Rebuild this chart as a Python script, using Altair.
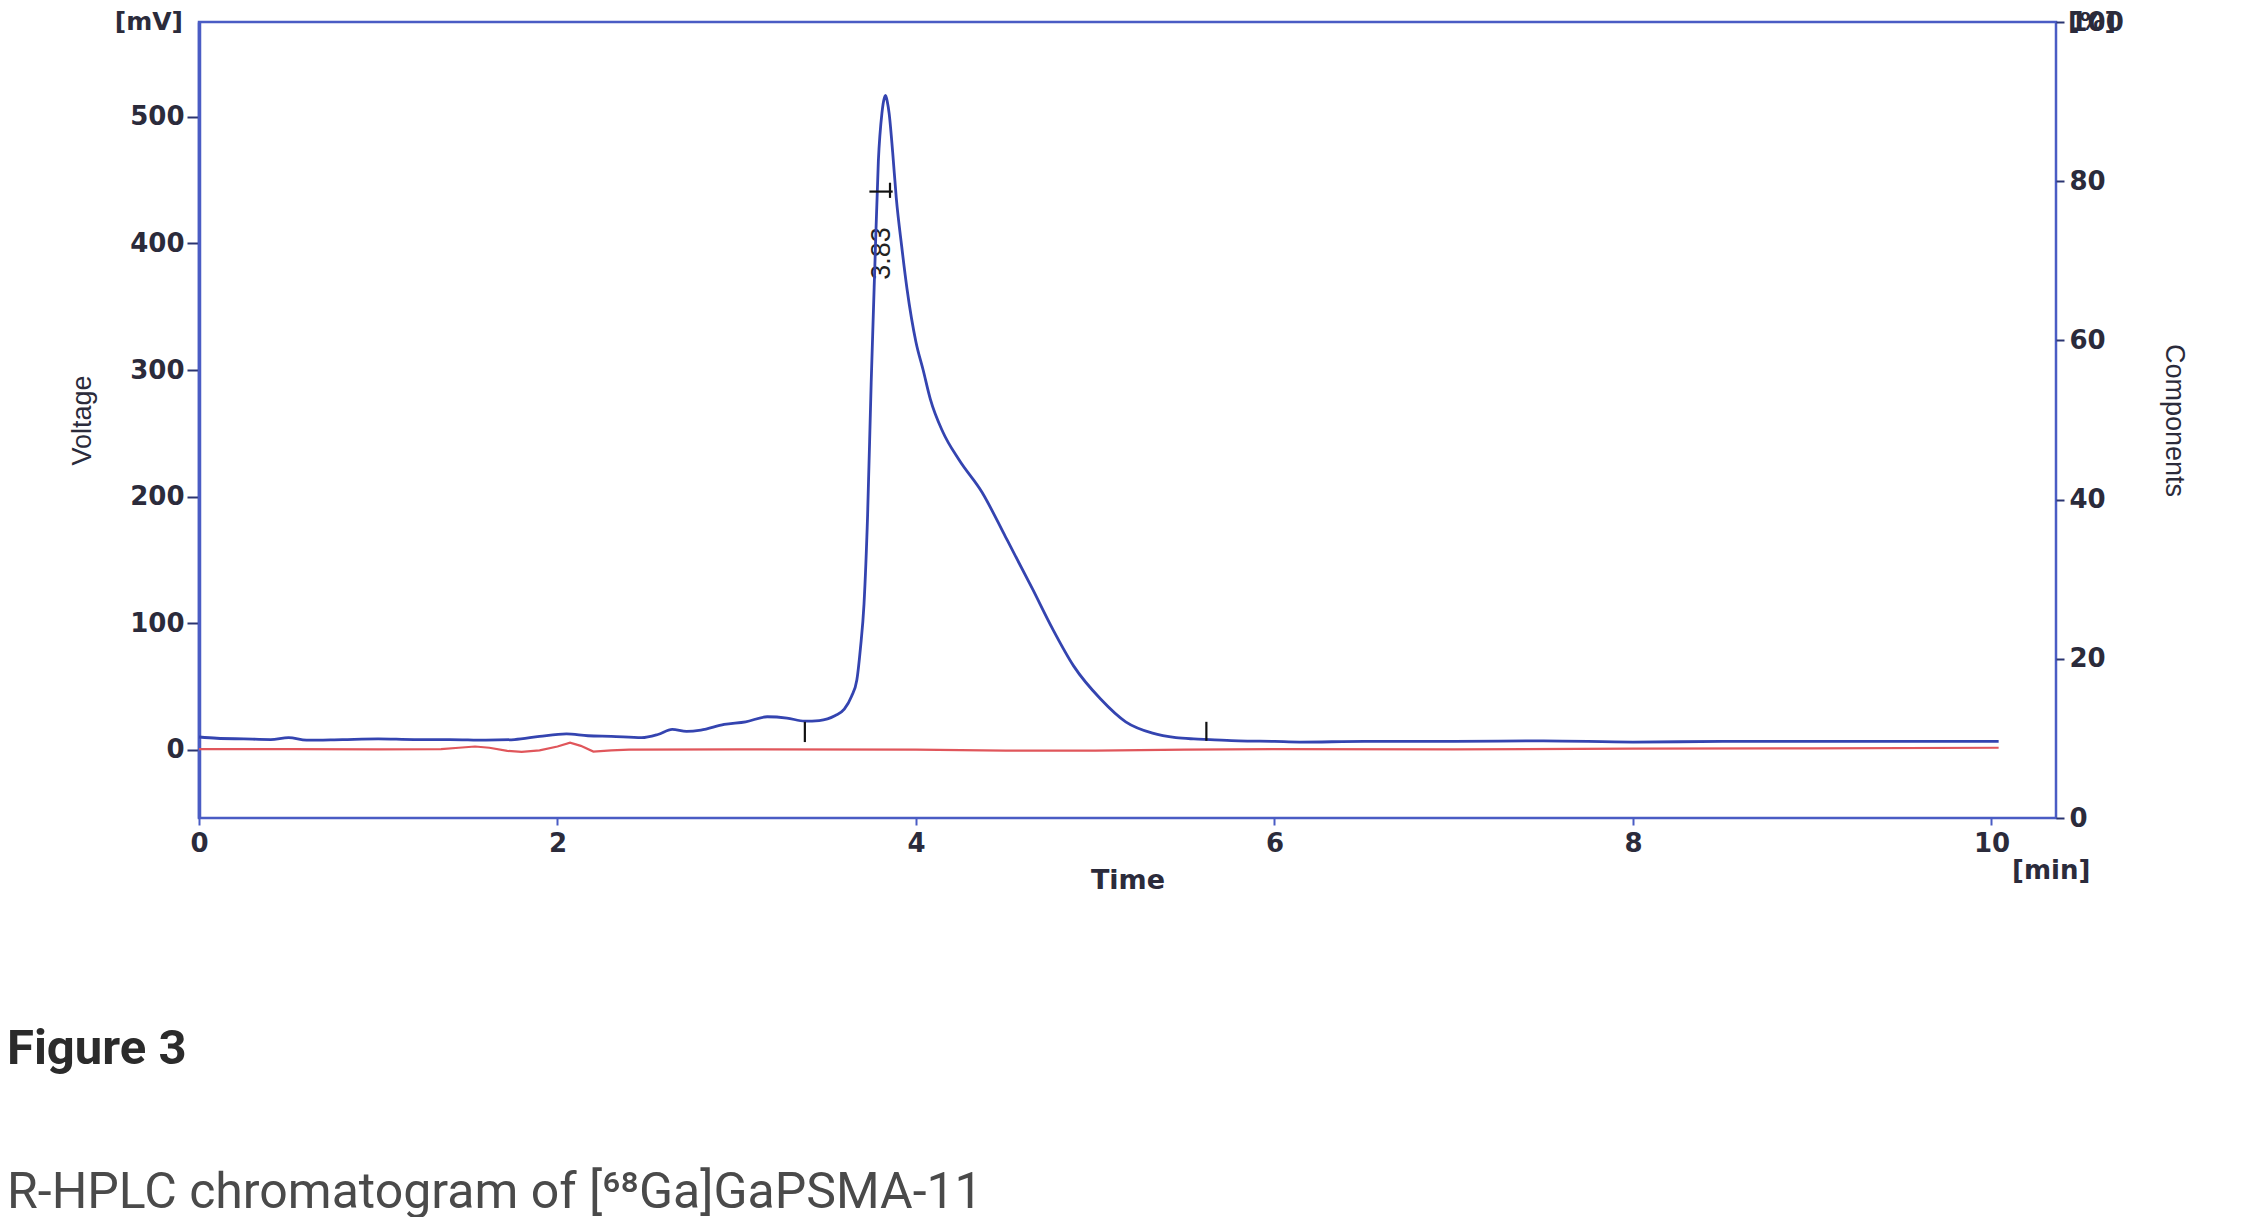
import altair as alt
import pandas as pd

# ---- data ----
blue_t = [0.00, 0.10, 0.25, 0.40, 0.50, 0.60, 0.80, 1.00, 1.20, 1.40, 1.60, 1.76, 1.90, 2.05, 2.17,
          2.30, 2.47, 2.56, 2.64, 2.72, 2.80, 2.93, 3.05, 3.17, 3.28, 3.38, 3.46, 3.55, 3.60, 3.64,
          3.67, 3.69, 3.71, 3.73, 3.75, 3.77, 3.79, 3.81, 3.82, 3.83, 3.84, 3.85, 3.87, 3.89, 3.92,
          3.95, 4.00, 4.04, 4.08, 4.15, 4.24, 4.37, 4.50, 4.65, 4.76, 4.88, 5.03, 5.17, 5.32, 5.45,
          5.55, 5.64, 5.80, 6.00, 6.14, 6.50, 7.00, 7.50, 8.00, 8.50, 9.00, 9.50, 10.04]
blue_mv = [10, 9, 8.5, 8, 9.5, 7.5, 8, 8.5, 8, 8, 7.5, 8, 10.5, 12.5, 11,
           10.5, 9.5, 12, 16, 14.5, 15.5, 20, 22, 26, 25, 22.5, 23, 27, 32, 42,
           55, 80, 115, 185, 290, 380, 465, 503, 513, 517, 512, 503, 472, 436, 398,
           364, 322, 300, 277, 251, 229, 203, 168, 127, 96, 66, 40, 22, 13, 9.5,
           8.5, 8, 7, 6.5, 6, 6.5, 6.5, 7, 6, 6.5, 6.5, 6.5, 6.5]

red_t = [0.00, 0.50, 1.00, 1.35, 1.45, 1.54, 1.62, 1.72, 1.80, 1.90, 2.00, 2.07, 2.13, 2.20, 2.30,
         2.40, 3.00, 4.00, 4.50, 5.00, 5.50, 6.00, 7.00, 8.00, 9.00, 10.04]
red_mv = [0.5, 0.5, 0.3, 0.5, 1.5, 2.5, 1.5, -1, -1.8, -0.5, 2.5, 5.5, 3, -1.5, -0.5,
          0, 0.3, 0, -0.8, -0.8, 0, 0.5, 0.3, 0.8, 1, 1.5]

border_t = [3.38, 5.62]
border_lo = [6, 7]
border_hi = [22, 22]

apex_t = [3.74]
apex_t2 = [3.87]
apex_mv = [441]
apex_tick_t = [3.855]
apex_tick_lo = [436]
apex_tick_hi = [448]

peak_label = ["3.83"]
peak_label_t = [3.81]
peak_label_mv = [392]

x_ticks = [0, 2, 4, 6, 8, 10]
y_ticks = [0, 100, 200, 300, 400, 500]
right_ticks = [0, 20, 40, 60, 80, 100]

# ---- styling ----
W, H = 1857, 796
FRAME = "#4a5cc4"
BLUE = "#3444b0"
RED = "#e0565b"
LBL = "#2b2b3b"

blue_df = pd.DataFrame({"t": blue_t, "v": blue_mv})
red_df = pd.DataFrame({"t": red_t, "v": red_mv})
border_df = pd.DataFrame({"t": border_t, "v": border_lo, "v2": border_hi})
apex_df = pd.DataFrame({"t": apex_t, "t2": apex_t2, "v": apex_mv})
apex_tick_df = pd.DataFrame({"t": apex_tick_t, "v": apex_tick_lo, "v2": apex_tick_hi})
label_df = pd.DataFrame({"t": peak_label_t, "v": peak_label_mv, "lab": peak_label})
right_df = pd.DataFrame({"comp": [0, 100]})

xscale = alt.Scale(domain=[0, 10.36], nice=False, zero=False)
yscale = alt.Scale(domain=[-54, 575], nice=False, zero=False)


def X():
    return alt.X("t:Q", scale=xscale, axis=alt.Axis(
        values=x_ticks, title="Time", grid=False, domain=False,
        tickColor=FRAME, tickSize=7, tickWidth=2, labelPadding=5,
        labelFont="DejaVu Sans", labelFontWeight="bold", labelFontSize=26, labelColor=LBL,
        labelFlush=False, labelOverlap=False,
        titleFont="DejaVu Sans", titleFontWeight="bold", titleFontSize=27, titleColor=LBL,
        titleX=W / 2, titleY=62, titleAlign="center", titleBaseline="middle", titleAngle=0))


def Y(field="v:Q"):
    return alt.Y(field, scale=yscale, axis=alt.Axis(
        values=y_ticks, title="Voltage", grid=False, domain=True,
        domainColor=FRAME, domainWidth=3.5,
        tickColor="#2a3470", tickSize=12, tickWidth=2, labelPadding=3,
        labelFont="DejaVu Sans", labelFontWeight="bold", labelFontSize=26, labelColor=LBL,
        labelFlush=False, labelOverlap=False,
        titleFont="Liberation Sans", titleFontWeight="normal", titleFontSize=27, titleColor=LBL,
        titleX=-117, titleY=H / 2, titleAngle=270, titleAlign="center", titleBaseline="middle"))


red = alt.Chart(red_df).mark_line(color=RED, strokeWidth=2.2).encode(x=X(), y=Y())
blue = alt.Chart(blue_df).mark_line(color=BLUE, strokeWidth=2.8, interpolate="monotone").encode(
    x=X(), y=Y())
borders = alt.Chart(border_df).mark_rule(color="#111", strokeWidth=2.2).encode(
    x=X(), y=Y(), y2="v2:Q")
apex = alt.Chart(apex_df).mark_rule(color="#111", strokeWidth=2.2).encode(
    x=X(), x2="t2:Q", y=Y())
apex_tick = alt.Chart(apex_tick_df).mark_rule(color="#111", strokeWidth=2.2).encode(
    x=X(), y=Y(), y2="v2:Q")
peak_text = alt.Chart(label_df).mark_text(
    angle=270, font="Liberation Sans", fontSize=27, color="#222",
    align="center", baseline="middle").encode(x=X(), y=Y(), text="lab:N")

left = alt.layer(red, peak_text, blue, borders, apex, apex_tick)

right = alt.Chart(right_df).mark_point(opacity=0).encode(
    x=alt.value(0),
    y=alt.Y("comp:Q", scale=alt.Scale(domain=[0, 100], nice=False, zero=False), axis=alt.Axis(
        orient="right", values=right_ticks, title="Components", grid=False, domain=False,
        tickColor="#2a3470", tickSize=8, tickWidth=2, labelPadding=5,
        labelFont="DejaVu Sans", labelFontWeight="bold", labelFontSize=26, labelColor=LBL,
        labelFlush=False, labelOverlap=False,
        titleFont="Liberation Sans", titleFontWeight="normal", titleFontSize=27, titleColor=LBL,
        titleX=117, titleY=H / 2, titleAngle=90, titleAlign="center", titleBaseline="middle")))


def free_text(s, x, y, size, font="DejaVu Sans", weight="bold", color=LBL, align="left"):
    return alt.Chart(pd.DataFrame({"s": [s]})).mark_text(
        font=font, fontSize=size, fontWeight=weight, color=color,
        align=align, baseline="middle").encode(
        x=alt.value(x), y=alt.value(y), text="s:N")


mv_unit = free_text("[mV]", -16, 0, 25, align="right")
min_unit = free_text("[min]", 1813, 849, 26)
pct_unit = free_text("[%]", W + 12, 0, 25)

fig = alt.Chart(pd.DataFrame({"s": ["Figure 3"]})).mark_text(
    font="Roboto", fontSize=49, fontWeight="bold", color="#2b2b2b",
    align="left", baseline="alphabetic").encode(
    x=alt.value(-192), y=alt.value(1064 - 22), text="s:N")
cap = alt.Chart(pd.DataFrame({"s": ["R-HPLC chromatogram of [\u2076\u2078Ga]GaPSMA-11"]})).mark_text(
    font="Roboto", fontSize=50, fontWeight="normal", color="#4a4a4a",
    align="left", baseline="alphabetic").encode(
    x=alt.value(-192), y=alt.value(1208 - 22), text="s:N")

chart = alt.layer(left, right, mv_unit, min_unit, pct_unit, fig, cap).resolve_scale(
    y="independent"
).properties(
    width=W, height=H,
    padding={"left": 191, "top": 14, "right": 185, "bottom": 399},
    autosize=alt.AutoSizeParams(type="none"),
).configure_view(stroke=FRAME, strokeWidth=2.5)

chart.save("out.html", embed_options={"renderer": "svg", "actions": False})
